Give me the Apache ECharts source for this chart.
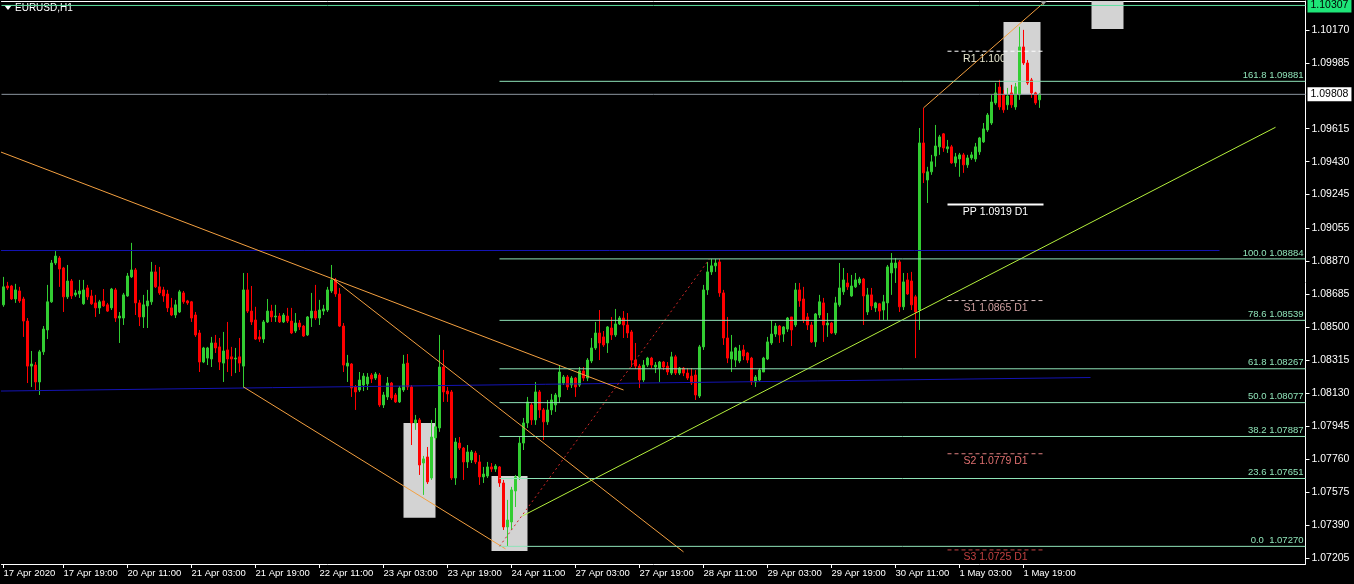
<!DOCTYPE html>
<html><head><meta charset="utf-8">
<script src="https://cdn.jsdelivr.net/npm/echarts@6/dist/echarts.min.js"></script>
<style>html,body{margin:0;padding:0;background:#000;}#c{width:1354px;height:584px;}</style>
</head><body><div id="c"></div>
<script>
const chartTitle = 'EURUSD,H1';
const opens = [
1.08626,1.08732,1.08732,1.08659,1.08704,1.08659,1.08535,1.08282,1.08288,1.08193,
1.08362,1.08485,1.08643,1.08861,1.08889,1.08833,1.08671,1.08760,1.08682,1.08687,
1.08632,1.08721,1.08676,1.08637,1.08609,1.08648,1.08626,1.08609,1.08710,1.08552,
1.08552,1.08676,1.08783,1.08822,1.08637,1.08558,1.08620,1.08643,1.08811,1.08727,
1.08710,1.08687,1.08609,1.08569,1.08586,1.08693,1.08648,1.08643,1.08569,1.08468,
1.08305,1.08327,1.08322,1.08412,1.08390,1.08299,1.08373,1.08334,1.08322,1.08334,
1.08282,1.08710,1.08591,1.08541,1.08446,1.08434,1.08530,1.08591,1.08558,1.08563,
1.08530,1.08563,1.08535,1.08479,1.08524,1.08507,1.08457,1.08552,1.08591,1.08552,
1.08591,1.08597,1.08704,1.08766,1.08687,1.08507,1.08282,1.08294,1.08165,1.08148,
1.08176,1.08182,1.08232,1.08215,1.08232,1.08064,1.08109,1.08187,1.08120,1.08081,
1.08148,1.08299,1.08165,1.07963,1.07980,1.07738,1.07772,1.07654,1.07879,1.07935,
1.08277,1.08142,1.08137,1.07654,1.07850,1.07822,1.07744,1.07755,1.07794,1.07744,
1.07660,1.07665,1.07716,1.07704,1.07716,1.07626,1.07379,1.07407,1.07581,1.07660,
1.07850,1.07963,1.08064,1.07980,1.08137,1.08036,1.07969,1.08036,1.08064,1.08109,
1.08187,1.08221,1.08176,1.08215,1.08176,1.08255,1.08215,1.08311,1.08384,1.08468,
1.08446,1.08412,1.08496,1.08457,1.08519,1.08552,1.08513,1.08474,1.08316,1.08282,
1.08204,1.08288,1.08327,1.08277,1.08271,1.08305,1.08282,1.08243,1.08334,1.08243,
1.08271,1.08243,1.08226,1.08232,1.08114,1.08390,1.08710,1.08811,1.08845,1.08867,
1.08693,1.08440,1.08322,1.08316,1.08311,1.08373,1.08356,1.08327,1.08193,1.08204,
1.08249,1.08322,1.08412,1.08462,1.08507,1.08462,1.08490,1.08558,1.08513,1.08710,
1.08659,1.08558,1.08513,1.08418,1.08569,1.08637,1.08513,1.08524,1.08468,1.08626,
1.08699,1.08749,1.08676,1.08727,1.08749,1.08771,1.08586,1.08682,1.08609,1.08632,
1.08597,1.08637,1.08805,1.08833,1.08867,1.08615,1.08766,1.08760,1.08671,1.08597,
1.09535,1.09327,1.09373,1.09462,1.09513,1.09586,1.09502,1.09513,1.09423,1.09445,
1.09468,1.09412,1.09451,1.09445,1.09485,1.09541,1.09608,1.09647,1.09760,1.09849,
1.09805,1.09749,1.09816,1.09737,1.09805,1.10074,1.09984,1.09889,1.09816,1.09777
];
const closes = [
1.08727,1.08721,1.08659,1.08710,1.08648,1.08535,1.08282,1.08294,1.08193,1.08362,
1.08490,1.08643,1.08861,1.08900,1.08827,1.08671,1.08760,1.08676,1.08693,1.08704,
1.08710,1.08671,1.08632,1.08609,1.08643,1.08620,1.08591,1.08715,1.08552,1.08563,
1.08682,1.08788,1.08822,1.08637,1.08558,1.08626,1.08648,1.08811,1.08727,1.08693,
1.08676,1.08609,1.08569,1.08626,1.08699,1.08643,1.08637,1.08552,1.08457,1.08305,
1.08384,1.08384,1.08412,1.08384,1.08305,1.08367,1.08322,1.08322,1.08327,1.08299,
1.08710,1.08591,1.08530,1.08434,1.08434,1.08530,1.08591,1.08558,1.08563,1.08530,
1.08569,1.08535,1.08468,1.08524,1.08502,1.08451,1.08558,1.08591,1.08552,1.08597,
1.08603,1.08710,1.08766,1.08687,1.08507,1.08288,1.08299,1.08159,1.08137,1.08204,
1.08226,1.08221,1.08210,1.08238,1.08064,1.08120,1.08187,1.08103,1.08081,1.08159,
1.08294,1.08165,1.07963,1.07980,1.07727,1.07761,1.07632,1.07884,1.07941,1.08277,
1.08137,1.08126,1.07654,1.07856,1.07822,1.07744,1.07800,1.07800,1.07744,1.07660,
1.07676,1.07716,1.07704,1.07721,1.07626,1.07379,1.07418,1.07587,1.07660,1.07850,
1.07963,1.08081,1.07980,1.08137,1.08036,1.07969,1.08036,1.08092,1.08120,1.08249,
1.08221,1.08165,1.08215,1.08165,1.08255,1.08215,1.08316,1.08384,1.08468,1.08412,
1.08401,1.08502,1.08457,1.08519,1.08552,1.08513,1.08468,1.08316,1.08282,1.08204,
1.08288,1.08327,1.08288,1.08288,1.08305,1.08277,1.08249,1.08334,1.08243,1.08271,
1.08243,1.08215,1.08187,1.08120,1.08390,1.08710,1.08811,1.08845,1.08861,1.08693,
1.08440,1.08327,1.08362,1.08384,1.08367,1.08339,1.08316,1.08193,1.08221,1.08260,
1.08327,1.08418,1.08462,1.08507,1.08457,1.08502,1.08552,1.08485,1.08710,1.08648,
1.08541,1.08513,1.08418,1.08575,1.08643,1.08513,1.08524,1.08468,1.08637,1.08721,
1.08766,1.08727,1.08732,1.08766,1.08771,1.08676,1.08682,1.08620,1.08637,1.08591,
1.08643,1.08839,1.08861,1.08861,1.08615,1.08755,1.08687,1.08626,1.08586,1.09535,
1.09367,1.09373,1.09429,1.09518,1.09569,1.09507,1.09513,1.09423,1.09457,1.09468,
1.09412,1.09451,1.09468,1.09513,1.09563,1.09614,1.09692,1.09765,1.09816,1.09737,
1.09721,1.09799,1.09749,1.09850,1.10074,1.09984,1.09872,1.09816,1.09760,1.09808
];
const lows = [
1.08615,1.08710,1.08654,1.08637,1.08637,1.08446,1.08187,1.08165,1.08148,1.08120,
1.08345,1.08434,1.08637,1.08850,1.08727,1.08586,1.08659,1.08659,1.08671,1.08665,
1.08626,1.08654,1.08626,1.08558,1.08575,1.08615,1.08586,1.08597,1.08530,1.08412,
1.08513,1.08671,1.08777,1.08569,1.08507,1.08496,1.08496,1.08626,1.08721,1.08682,
1.08643,1.08586,1.08563,1.08552,1.08580,1.08632,1.08626,1.08530,1.08446,1.08249,
1.08299,1.08288,1.08277,1.08356,1.08260,1.08193,1.08249,1.08226,1.08243,1.08249,
1.08159,1.08580,1.08513,1.08429,1.08418,1.08412,1.08524,1.08530,1.08530,1.08524,
1.08524,1.08524,1.08462,1.08468,1.08485,1.08446,1.08451,1.08502,1.08541,1.08513,
1.08569,1.08586,1.08693,1.08671,1.08502,1.08249,1.08193,1.08109,1.08036,1.08137,
1.08142,1.08148,1.08187,1.08204,1.08053,1.08047,1.08092,1.08092,1.08075,1.08075,
1.08137,1.08148,1.07839,1.07924,1.07671,1.07559,1.07620,1.07643,1.07867,1.07913,
1.08081,1.08081,1.07643,1.07615,1.07811,1.07643,1.07710,1.07738,1.07732,1.07615,
1.07626,1.07654,1.07688,1.07688,1.07604,1.07362,1.07272,1.07362,1.07491,1.07643,
1.07811,1.07935,1.07952,1.07952,1.07991,1.07867,1.07952,1.08008,1.08025,1.08075,
1.08176,1.08148,1.08159,1.08109,1.08165,1.08198,1.08198,1.08299,1.08373,1.08316,
1.08390,1.08356,1.08429,1.08446,1.08513,1.08440,1.08440,1.08277,1.08266,1.08159,
1.08193,1.08277,1.08271,1.08243,1.08193,1.08260,1.08232,1.08232,1.08232,1.08232,
1.08226,1.08204,1.08176,1.08092,1.08103,1.08373,1.08682,1.08794,1.08811,1.08671,
1.08401,1.08299,1.08249,1.08277,1.08299,1.08316,1.08299,1.08176,1.08165,1.08193,
1.08249,1.08316,1.08401,1.08446,1.08412,1.08418,1.08474,1.08395,1.08502,1.08615,
1.08524,1.08485,1.08412,1.08390,1.08552,1.08418,1.08446,1.08462,1.08457,1.08615,
1.08682,1.08710,1.08671,1.08721,1.08738,1.08513,1.08569,1.08597,1.08586,1.08541,
1.08541,1.08541,1.08682,1.08749,1.08586,1.08597,1.08682,1.08597,1.08327,1.08485,
1.09310,1.09198,1.09356,1.09401,1.09468,1.09485,1.09479,1.09418,1.09401,1.09345,
1.09367,1.09395,1.09440,1.09429,1.09468,1.09535,1.09597,1.09636,1.09749,1.09721,
1.09704,1.09721,1.09732,1.09721,1.09777,1.09973,1.09861,1.09788,1.09749,1.09732
];
const highs = [
1.08783,1.08755,1.08738,1.08744,1.08727,1.08671,1.08552,1.08367,1.08305,1.08373,
1.08507,1.08738,1.08878,1.08928,1.08900,1.08839,1.08850,1.08771,1.08710,1.08766,
1.08766,1.08738,1.08710,1.08682,1.08654,1.08715,1.08637,1.08721,1.08721,1.08586,
1.08693,1.08805,1.08974,1.08833,1.08654,1.08682,1.08710,1.08867,1.08850,1.08839,
1.08727,1.08710,1.08665,1.08654,1.08710,1.08704,1.08654,1.08648,1.08586,1.08485,
1.08390,1.08390,1.08446,1.08457,1.08440,1.08474,1.08530,1.08390,1.08384,1.08440,
1.08805,1.08805,1.08732,1.08615,1.08485,1.08541,1.08659,1.08626,1.08626,1.08580,
1.08580,1.08609,1.08609,1.08580,1.08541,1.08513,1.08563,1.08693,1.08738,1.08654,
1.08626,1.08727,1.08850,1.08777,1.08721,1.08524,1.08345,1.08299,1.08176,1.08249,
1.08243,1.08243,1.08243,1.08249,1.08243,1.08137,1.08221,1.08193,1.08131,1.08170,
1.08345,1.08350,1.08176,1.08008,1.07991,1.07778,1.07828,1.07980,1.08047,1.08457,
1.08373,1.08165,1.08148,1.07879,1.07884,1.07828,1.07839,1.07811,1.07806,1.07783,
1.07716,1.07744,1.07738,1.07732,1.07721,1.07643,1.07531,1.07604,1.07671,1.07884,
1.07991,1.08109,1.08075,1.08193,1.08148,1.08047,1.08092,1.08126,1.08131,1.08288,
1.08232,1.08232,1.08226,1.08221,1.08277,1.08277,1.08327,1.08440,1.08530,1.08597,
1.08479,1.08507,1.08558,1.08603,1.08563,1.08591,1.08580,1.08485,1.08412,1.08294,
1.08316,1.08334,1.08334,1.08305,1.08311,1.08311,1.08305,1.08362,1.08345,1.08277,
1.08277,1.08271,1.08271,1.08260,1.08401,1.08738,1.08867,1.08884,1.08884,1.08884,
1.08710,1.08558,1.08457,1.08390,1.08401,1.08401,1.08362,1.08334,1.08232,1.08271,
1.08334,1.08446,1.08541,1.08524,1.08513,1.08507,1.08558,1.08558,1.08749,1.08749,
1.08727,1.08580,1.08530,1.08580,1.08682,1.08665,1.08580,1.08530,1.08671,1.08861,
1.08833,1.08805,1.08794,1.08805,1.08783,1.08777,1.08721,1.08721,1.08643,1.08637,
1.08682,1.08850,1.08917,1.08889,1.08878,1.08805,1.08805,1.08811,1.08682,1.09619,
1.09732,1.09401,1.09468,1.09636,1.09580,1.09591,1.09552,1.09524,1.09479,1.09479,
1.09479,1.09468,1.09485,1.09535,1.09569,1.09647,1.09703,1.09805,1.09872,1.09889,
1.09833,1.09844,1.09861,1.09872,1.10187,1.10170,1.10001,1.09900,1.09822,1.09816
];

// time axis
const totalSlots = 326;            // bars + empty right margin (chart shift)
const xTickBars = [0,15,31,47,63,79,95,111,127,143,159,175,191,207,223,239,255];
const xTickLabels = ['17 Apr 2020','17 Apr 19:00','20 Apr 11:00','21 Apr 03:00','21 Apr 19:00',
  '22 Apr 11:00','23 Apr 03:00','23 Apr 19:00','24 Apr 11:00','27 Apr 03:00','27 Apr 19:00',
  '28 Apr 11:00','29 Apr 03:00','29 Apr 19:00','30 Apr 11:00','1 May 03:00','1 May 19:00'];
// price axis
const yMin = 1.07171, yMax = 1.10332;
const yTickValues = [1.07205,1.07390,1.07575,1.07760,1.07945,1.08130,1.08315,1.08500,1.08685,
  1.08870,1.09055,1.09245,1.09430,1.09615,1.09985,1.10170];
const askPrice = 1.10307;
const bidPrice = 1.09808;

// Fibonacci retracement
const fibLevels = [0.0, 23.6, 38.2, 50.0, 61.8, 78.6, 100.0, 161.8];
const fibPrices = [1.07270, 1.07651, 1.07887, 1.08077, 1.08267, 1.08539, 1.08884, 1.09881];
const fibStartBar = 124;
const fibBaseline = [124, 1.07270, 176.5, 1.08884];

// Daily pivots
const pivotNames = ['R1','PP','S1','S2','S3'];
const pivotPrices = [1.1005, 1.0919, 1.0865, 1.0779, 1.0725];
const pivotFromBar = 236, pivotToBar = 260, pivotTextBar = 248;

// trend lines  [bar1, price1, bar2, price2]
const orangeLines = [
  [-1, 1.09487, 155, 1.08148],
  [82, 1.08777, 170, 1.07239],
  [60, 1.08165, 125.5, 1.07256],
  [230, 1.09732, 260, 1.10321]
];
const greenTrend = [[129.75, 1.07441, 318, 1.09623]];
const blueLines = [
  [-1, 1.08931, 304, 1.08931],
  [-1, 1.08142, 271.75, 1.08218]
];
const arrowPoint = [[260, 1.10321]];
// rectangles [bar1, priceTop, bar2, priceBottom]
const boxes = [
  [100, 1.07963, 108, 1.07430],
  [122, 1.07665, 131, 1.07244],
  [250, 1.10214, 259.25, 1.09805],
  [272, 1.10400, 280, 1.10175]
];

const FONT = 'Liberation Sans, Arial, sans-serif';
const WHITE = '#ffffff';
const BULL = '#32cd32', BEAR = '#ff0000';
const FIB = '#8fe3b8';
const PIV_TEXT = ['#e8e8d0', '#ffffff', '#d0a0a0', '#e07070', '#c04040'];
const PIV_LINE = ['#ffffff', '#ffffff', '#d8c0c0', '#e08080', '#c84848'];

const cats = [];
for (let i = 0; i < totalSlots; i++) {
  const k = xTickBars.indexOf(i);
  cats.push(k >= 0 ? xTickLabels[k] : '');
}
const candles = opens.map((o, i) => [o, closes[i], lows[i], highs[i]]);

function segSeries(name, segs, style, z) {
  return {
    type: 'custom', name, xAxisIndex: 1, yAxisIndex: 0, z, clip: true, silent: true,
    data: segs,
    renderItem(params, api) {
      const a = api.coord([api.value(0), api.value(1)]);
      const b = api.coord([api.value(2), api.value(3)]);
      return { type: 'line', shape: { x1: a[0], y1: a[1], x2: b[0], y2: b[1] },
        style: Object.assign({ fill: null }, style) };
    }
  };
}

const fibSegs = fibPrices.map(p => [fibStartBar, p, totalSlots - 0.5, p]);
const pivotSegs = pivotPrices.map(p => [pivotFromBar, p, pivotToBar, p]);

const option = {
  backgroundColor: '#000000',
  animation: false,
  grid: { left: 1.5, right: 48.5, top: 1, bottom: 20, containLabel: false },
  graphic: [
    { type: 'polygon', left: 4, top: 5, shape: { points: [[0,0],[8,0],[4,5]] }, style: { fill: WHITE } },
    { type: 'text', left: 15, top: 3, style: { text: chartTitle, fill: WHITE, font: '10px ' + FONT } }
  ],
  xAxis: [
    {
      type: 'category', data: cats, boundaryGap: true, position: 'bottom',
      axisLine: { show: true, lineStyle: { color: WHITE, width: 1 } },
      axisTick: { show: true, alignWithLabel: true, length: 4, interval: (i, v) => v !== '',
        lineStyle: { color: WHITE } },
      axisLabel: { show: true, interval: (i, v) => v !== '', color: WHITE, fontFamily: FONT,
        fontSize: 9.5, align: 'left', margin: 4 },
      splitLine: { show: false }
    },
    {
      type: 'value', min: -0.5, max: totalSlots - 0.5, position: 'top',
      axisLine: { show: true, onZero: false, lineStyle: { color: WHITE } },
      axisTick: { show: false }, axisLabel: { show: false }, splitLine: { show: false }
    }
  ],
  yAxis: [{
    type: 'value', position: 'right', min: yMin, max: yMax, scale: true,
    axisLine: { show: true, onZero: false, lineStyle: { color: WHITE } },
    axisTick: { show: true, length: 4, customValues: yTickValues, lineStyle: { color: WHITE } },
    axisLabel: { show: true, customValues: yTickValues, formatter: v => v.toFixed(5),
      color: WHITE, fontFamily: FONT, fontSize: 10.5, margin: 6 },
    splitLine: { show: false }
  }],
  series: [
    // pivot texts (background)
    {
      type: 'custom', xAxisIndex: 1, yAxisIndex: 0, z: 1, clip: true, silent: true,
      data: pivotPrices.map(p => [pivotTextBar, p]),
      renderItem(params, api) {
        const c = api.coord([api.value(0), api.value(1)]);
        const i = params.dataIndex;
        return { type: 'text', x: c[0], y: c[1] + 2,
          style: { text: pivotNames[i] + ' ' + pivotPrices[i].toFixed(4) + ' D1',
            fill: PIV_TEXT[i], font: '10.5px ' + FONT, align: 'center', verticalAlign: 'top' } };
      }
    },
    // rectangles
    {
      type: 'custom', xAxisIndex: 1, yAxisIndex: 0, z: 2, clip: true, silent: true,
      data: boxes,
      renderItem(params, api) {
        const a = api.coord([api.value(0), api.value(1)]);
        const b = api.coord([api.value(2), api.value(3)]);
        return { type: 'rect', shape: { x: a[0], y: a[1], width: b[0] - a[0], height: b[1] - a[1] },
          style: { fill: '#d3d3d3' } };
      }
    },
    {
      type: 'candlestick', name: 'EURUSD', xAxisIndex: 0, yAxisIndex: 0, z: 3,
      data: candles, barWidth: 2,
      itemStyle: { color: BULL, color0: BEAR, borderColor: BULL, borderColor0: BEAR, borderWidth: 1 }
    },
    segSeries('blue', blueLines, { stroke: '#1414b4', lineWidth: 1 }, 4),
    segSeries('orange', orangeLines, { stroke: '#f4a040', lineWidth: 1 }, 5),
    segSeries('trend', greenTrend, { stroke: '#b4f03c', lineWidth: 1 }, 5),
    segSeries('fibbase', [fibBaseline], { stroke: '#d02828', lineWidth: 1, lineDash: [2, 3] }, 5),
    segSeries('fib', fibSegs, { stroke: FIB, lineWidth: 1 }, 5),
    // pivot lines
    {
      type: 'custom', xAxisIndex: 1, yAxisIndex: 0, z: 5, clip: true, silent: true,
      data: pivotSegs,
      renderItem(params, api) {
        const a = api.coord([api.value(0), api.value(1)]);
        const b = api.coord([api.value(2), api.value(3)]);
        const i = params.dataIndex;
        return { type: 'line', shape: { x1: a[0], y1: a[1], x2: b[0], y2: b[1] },
          style: { stroke: PIV_LINE[i], lineWidth: i === 1 ? 2 : 1, lineDash: i === 1 ? null : [4, 3] } };
      }
    },
    // fib labels
    {
      type: 'custom', xAxisIndex: 1, yAxisIndex: 0, z: 6, clip: true, silent: true,
      data: fibPrices.map(p => [totalSlots - 0.5, p]),
      renderItem(params, api) {
        const c = api.coord([api.value(0), api.value(1)]);
        const i = params.dataIndex;
        const lv = fibLevels[i].toFixed(1);
        return { type: 'text', x: c[0] - 2, y: c[1] - 1,
          style: { text: lv + (fibLevels[i] === 0 ? '  ' : ' ') + fibPrices[i].toFixed(5),
            fill: FIB, font: '9.5px ' + FONT, align: 'right', verticalAlign: 'bottom' } };
      }
    },
    // arrow marker at end of the upper trend line
    {
      type: 'custom', xAxisIndex: 1, yAxisIndex: 0, z: 6, clip: true, silent: true,
      data: arrowPoint,
      renderItem(params, api) {
        const c = api.coord([api.value(0), api.value(1)]);
        return { type: 'polygon', shape: { points: [[c[0] - 5, c[1] - 4], [c[0] + 5, c[1] - 4], [c[0], c[1] + 2]] },
          style: { fill: '#a0a0a0' } };
      }
    },
    // bid / ask lines with price tags
    {
      type: 'custom', xAxisIndex: 1, yAxisIndex: 0, z: 7, clip: false, silent: true,
      data: [[-0.5, askPrice], [-0.5, bidPrice]],
      renderItem(params, api) {
        const c = api.coord([api.value(0), api.value(1)]);
        const cs = params.coordSys;
        const isAsk = params.dataIndex === 0;
        const right = cs.x + cs.width;
        return { type: 'group', children: [
          { type: 'line', shape: { x1: c[0], y1: c[1], x2: right, y2: c[1] },
            style: { stroke: isAsk ? '#5fe0a0' : '#8c96a0', lineWidth: 1 } },
          { type: 'text', x: right + 2, y: c[1],
            style: { text: api.value(1).toFixed(5), fill: '#000', font: '10.5px ' + FONT,
              backgroundColor: isAsk ? '#1ee678' : '#ffffff', padding: [2, 3, 1, 3],
              align: 'left', verticalAlign: 'middle' } }
        ] };
      }
    }
  ]
};
const chart = echarts.init(document.getElementById('c'), null, { renderer: 'canvas' });
chart.setOption(option);
</script></body></html>
